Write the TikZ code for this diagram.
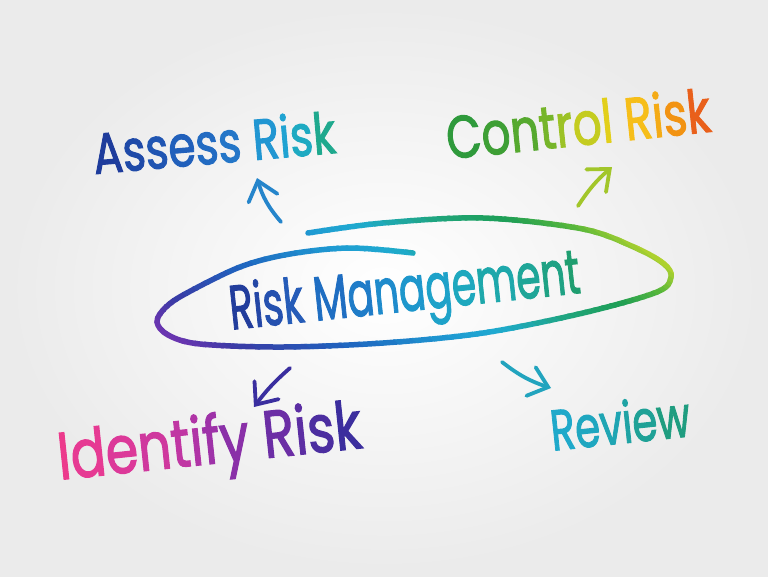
\documentclass[tikz,border=0pt]{standalone}
\usepackage{fontspec}
\setmainfont{Poppins}[FakeBold=2]
\usepackage{graphicx}
\usetikzlibrary{arrows.meta}
\definecolor{gP}{HTML}{6A35B0}
\definecolor{gI}{HTML}{3A3AA5}
\definecolor{gB}{HTML}{1F62BE}
\definecolor{gCB}{HTML}{1F9AD2}
\definecolor{gC}{HTML}{1FAAD0}
\definecolor{gT}{HTML}{1FA57A}
\definecolor{gG}{HTML}{1E9E55}
\definecolor{gL}{HTML}{5AB83A}
\definecolor{gY}{HTML}{B5D32E}
\definecolor{arA}{HTML}{2585CB}
\definecolor{arC}{HTML}{A2C62A}
\definecolor{arI}{HTML}{3A2E9F}
\definecolor{arR}{HTML}{22A4BE}
\newcommand\lc[2]{\textcolor[HTML]{#1}{#2}}
\tikzset{
  ring/.style={line width=5.5pt, line cap=round, line join=round},
  handarrow/.style={line width=3.8pt, line cap=round, line join=round,
    -{Straight Barb[length=18pt,width=30pt,line cap=round]}},
  word/.style={inner sep=0pt, anchor=center},
}
\begin{document}
\begin{tikzpicture}[x=1pt,y=-1pt]
\useasboundingbox (0,0) rectangle (768,576);
\shade[inner color=white, outer color=black!8] (0,0) rectangle (768,576);

% ring path
\path[save path=\ringP] plot[smooth, tension=0.55] coordinates {
  (308,233) (383,223) (483,218) (583,229) (636,248) (664,264) (671,277)
  (657,292) (583,313) (483,333) (383,343) (283,347) (200,344) (168,335)
  (157,322) (165,308) (185,294) (240,267) (290,254) (350,248) (413,253)};
\foreach \pa/\pb/\ca/\cb in {-220/-165/gP/gP, -165/-135/gP/gI, -135/-70/gI/gB,
    -70/0/gB/gCB, 0/35/gCB/gC, 35/90/gC/gT, 90/130/gT/gG, 130/165/gG/gL,
    165/190/gL/gY, 190/240/gY/gY}{
  \foreach \j in {0,...,5}{
    \pgfmathsetmacro\qa{\pa+(\pb-\pa)*\j/6-0.7}
    \pgfmathsetmacro\qb{\pa+(\pb-\pa)*(\j+1)/6+0.7}
    \pgfmathsetmacro\pc{(\j+0.5)/6*100}
    \colorlet{bandc}{\cb!\pc!\ca}
    \begin{scope}
      \clip ({0.6*\qa-800},{-0.8*\qa-600}) -- ({0.6*\qa+800},{-0.8*\qa+600})
        -- ({0.6*\qb+800},{-0.8*\qb+600}) -- ({0.6*\qb-800},{-0.8*\qb-600}) -- cycle;
      \draw[ring, bandc, use path=\ringP];
    \end{scope}
  }
}

% words
\node[word, rotate=6] (center) at (405,296) {\resizebox*{352pt}{64pt}{%
  \lc{223D9C}{R}\lc{2447A6}{i}\lc{2551AF}{s}\lc{265CB8}{k} %
  \lc{1F6EC2}{M}\lc{1F7CC8}{a}\lc{1F8BCC}{n}\lc{1E97CC}{a}\lc{1EA2C9}{g}\lc{1EA8BE}{e}%
  \lc{1EA8AB}{m}\lc{1FA698}{e}\lc{1FA284}{n}\lc{1F9E70}{t}}};

\node[word, rotate=5] (assess) at (214,142) {\resizebox*{243pt}{44pt}{%
  \lc{1E3C9C}{A}\lc{1F4AA8}{s}\lc{2055B2}{s}\lc{2160BB}{e}\lc{226BC2}{s}\lc{2476C8}{s} %
  \lc{2196D2}{R}\lc{1FA3D2}{i}\lc{1EAAC2}{s}\lc{1FA98E}{k}}};

\node[word, rotate=6] (control) at (578,123) {\resizebox*{265pt}{46pt}{%
  \lc{2F9A3C}{C}\lc{3E9F35}{o}\lc{56A92F}{n}\lc{76B52A}{t}\lc{9CC226}{r}\lc{C4CC20}{o}\lc{E2CF1A}{l} %
  \lc{F6BE19}{R}\lc{F4AB16}{i}\lc{F29312}{s}\lc{E9601B}{k}}};

\node[word, rotate=6] (identify) at (210,447) {\resizebox*{305pt}{68pt}{%
  \lc{EC3A8C}{I}\lc{E63A93}{d}\lc{DC3999}{e}\lc{CF389E}{n}\lc{C036A3}{t}\lc{B034A6}{i}\lc{9E32A8}{f}\lc{8A30A8}{y} %
  \lc{6C2EA5}{R}\lc{5C2EA3}{i}\lc{4C2EA0}{s}\lc{3C2E9E}{k}}};

\node[word, rotate=6] (review) at (620,422) {\resizebox*{140pt}{44pt}{%
  \lc{1FA9CA}{R}\lc{1FA7C0}{e}\lc{1FA5B3}{v}\lc{1FA3A4}{i}\lc{1FA196}{e}\lc{1F9D80}{w}}};

% arrows
\coordinate (aT) at (281,222); \coordinate (aH) at (257,178);
\coordinate (cT) at (578,206); \coordinate (cH) at (612,167);
\coordinate (iT) at (290,368); \coordinate (iH) at (254,407);
\coordinate (rT) at (502,362); \coordinate (rH) at (551,388);
\draw[handarrow, arA] (aT) to[bend left=12] (aH);
\draw[handarrow, arC] (cT) to[bend left=8] (cH);
\draw[handarrow, arI] (iT) to[bend right=6] (iH);
\draw[handarrow, arR] (rT) to[bend right=10] (rH);
\end{tikzpicture}
\end{document}
